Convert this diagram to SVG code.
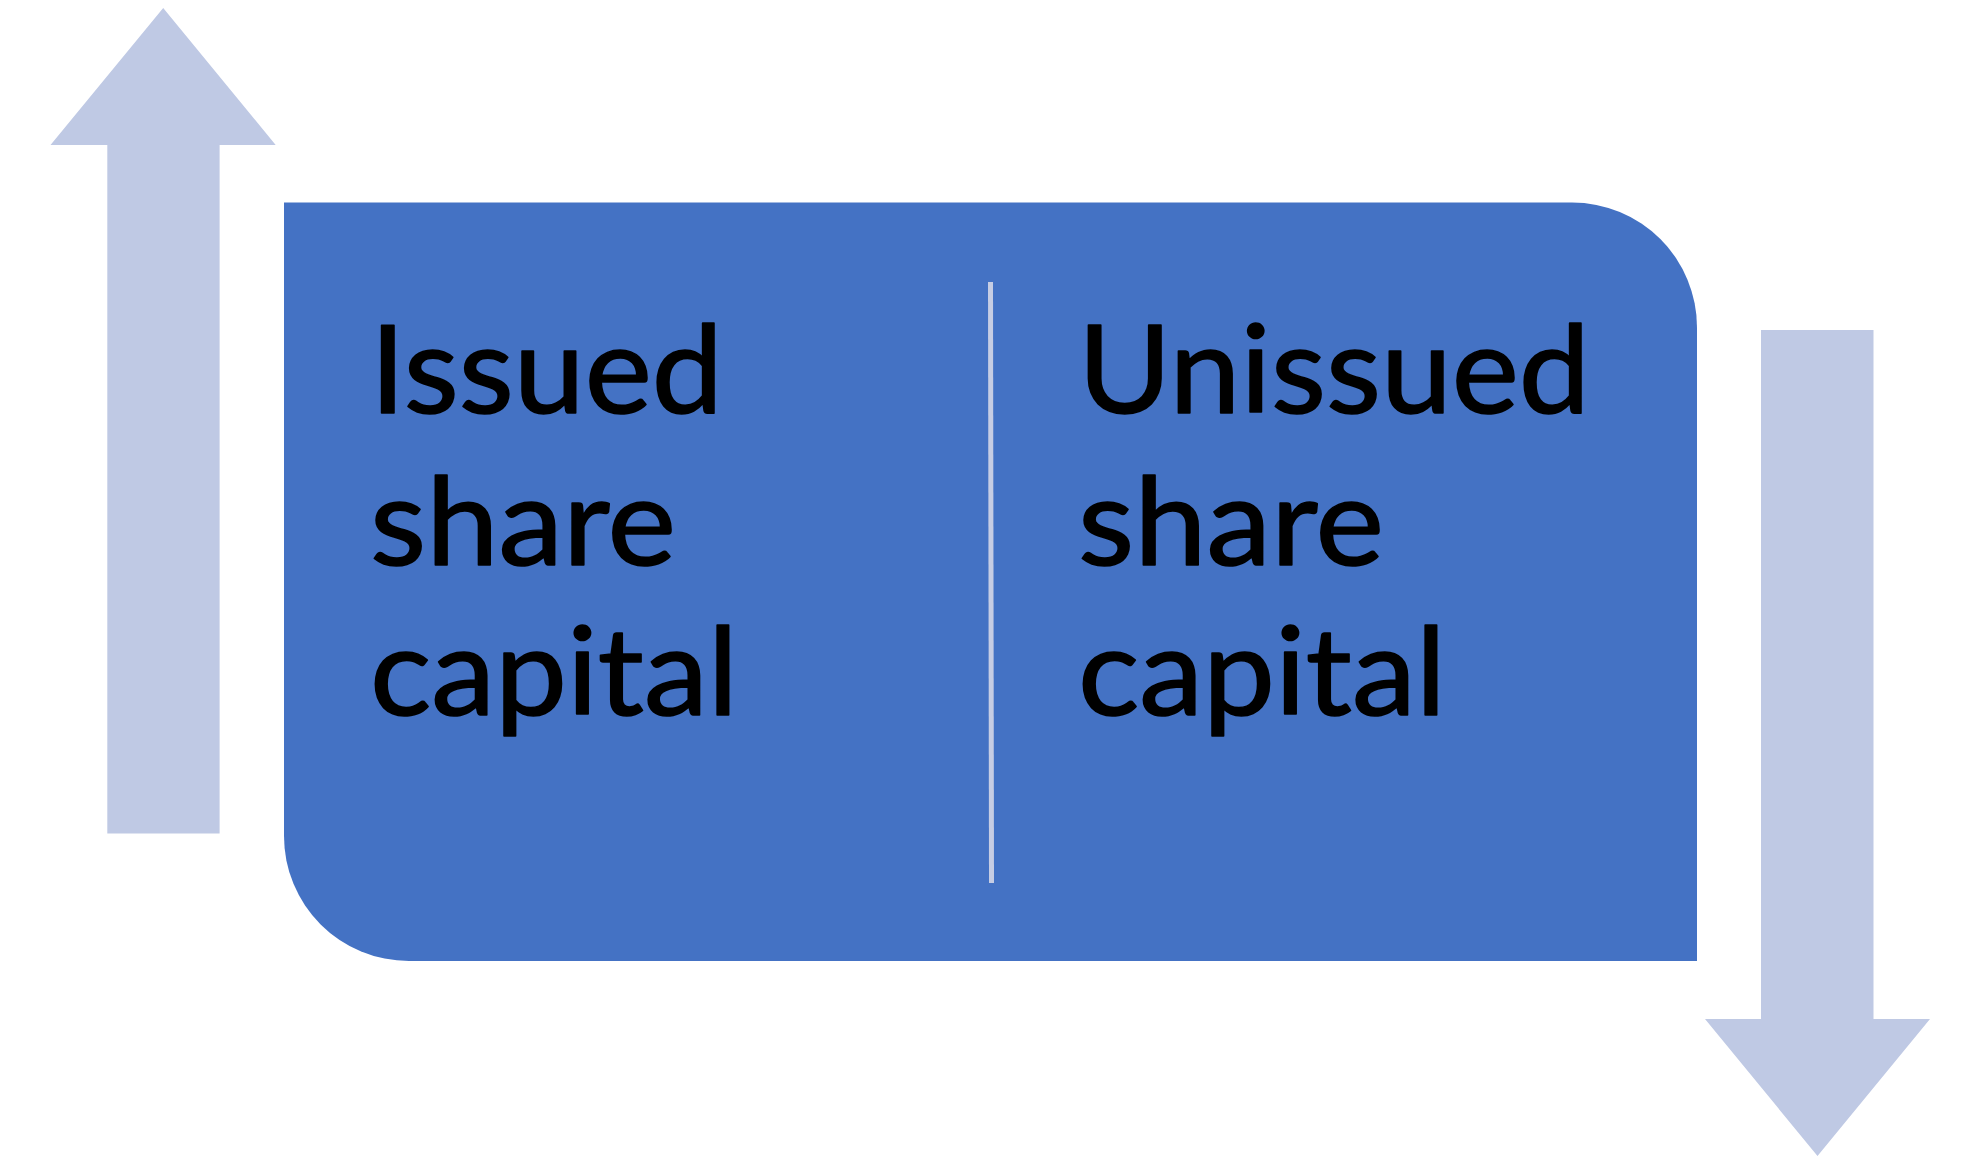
<svg xmlns="http://www.w3.org/2000/svg" width="1980" height="1164" viewBox="0 0 1980 1164">
  <style>
    .arrow { fill: #BFC9E4; }
    .box { fill: #4472C4; }
    .divider { fill: #C6CDE4; }
    .label { font-family: Lato, "Open Sans", "Liberation Sans", sans-serif; font-size: 123px; fill: #000000; stroke: #000000; stroke-width: 1.6px; stroke-linejoin: round; }
  </style>
  <rect x="0" y="0" width="1980" height="1164" fill="#FFFFFF"/>
  <g id="arrows">
    <g id="arrow-up">
      <polygon class="arrow" points="163.2,8 275.7,145 219.6,145 219.6,833.5 107.3,833.5 107.3,145 50.5,145"/>
    </g>
    <g id="arrow-down">
      <polygon class="arrow" points="1761,330 1873.5,330 1873.5,1019 1930,1019 1817.5,1156 1705,1019 1761,1019"/>
    </g>
  </g>
  <g id="share-capital-box">
    <path class="box" d="M284,202.5 H1572 A125,125 0 0 1 1697,327.5 V961 H409 A125,125 0 0 1 284,836 Z"/>
    <polygon class="divider" points="988,282 993,282 994,883 989,883"/>
  </g>
  <g id="issued">
    <text class="label" x="370" y="413" textLength="353" lengthAdjust="spacingAndGlyphs">Issued</text>
    <text class="label" x="370" y="565" textLength="306" lengthAdjust="spacingAndGlyphs">share</text>
    <text class="label" x="370" y="715" textLength="368" lengthAdjust="spacingAndGlyphs">capital</text>
  </g>
  <g id="unissued">
    <text class="label" x="1078" y="413" textLength="512" lengthAdjust="spacingAndGlyphs">Unissued</text>
    <text class="label" x="1078" y="565" textLength="306" lengthAdjust="spacingAndGlyphs">share</text>
    <text class="label" x="1078" y="715" textLength="368" lengthAdjust="spacingAndGlyphs">capital</text>
  </g>
</svg>
